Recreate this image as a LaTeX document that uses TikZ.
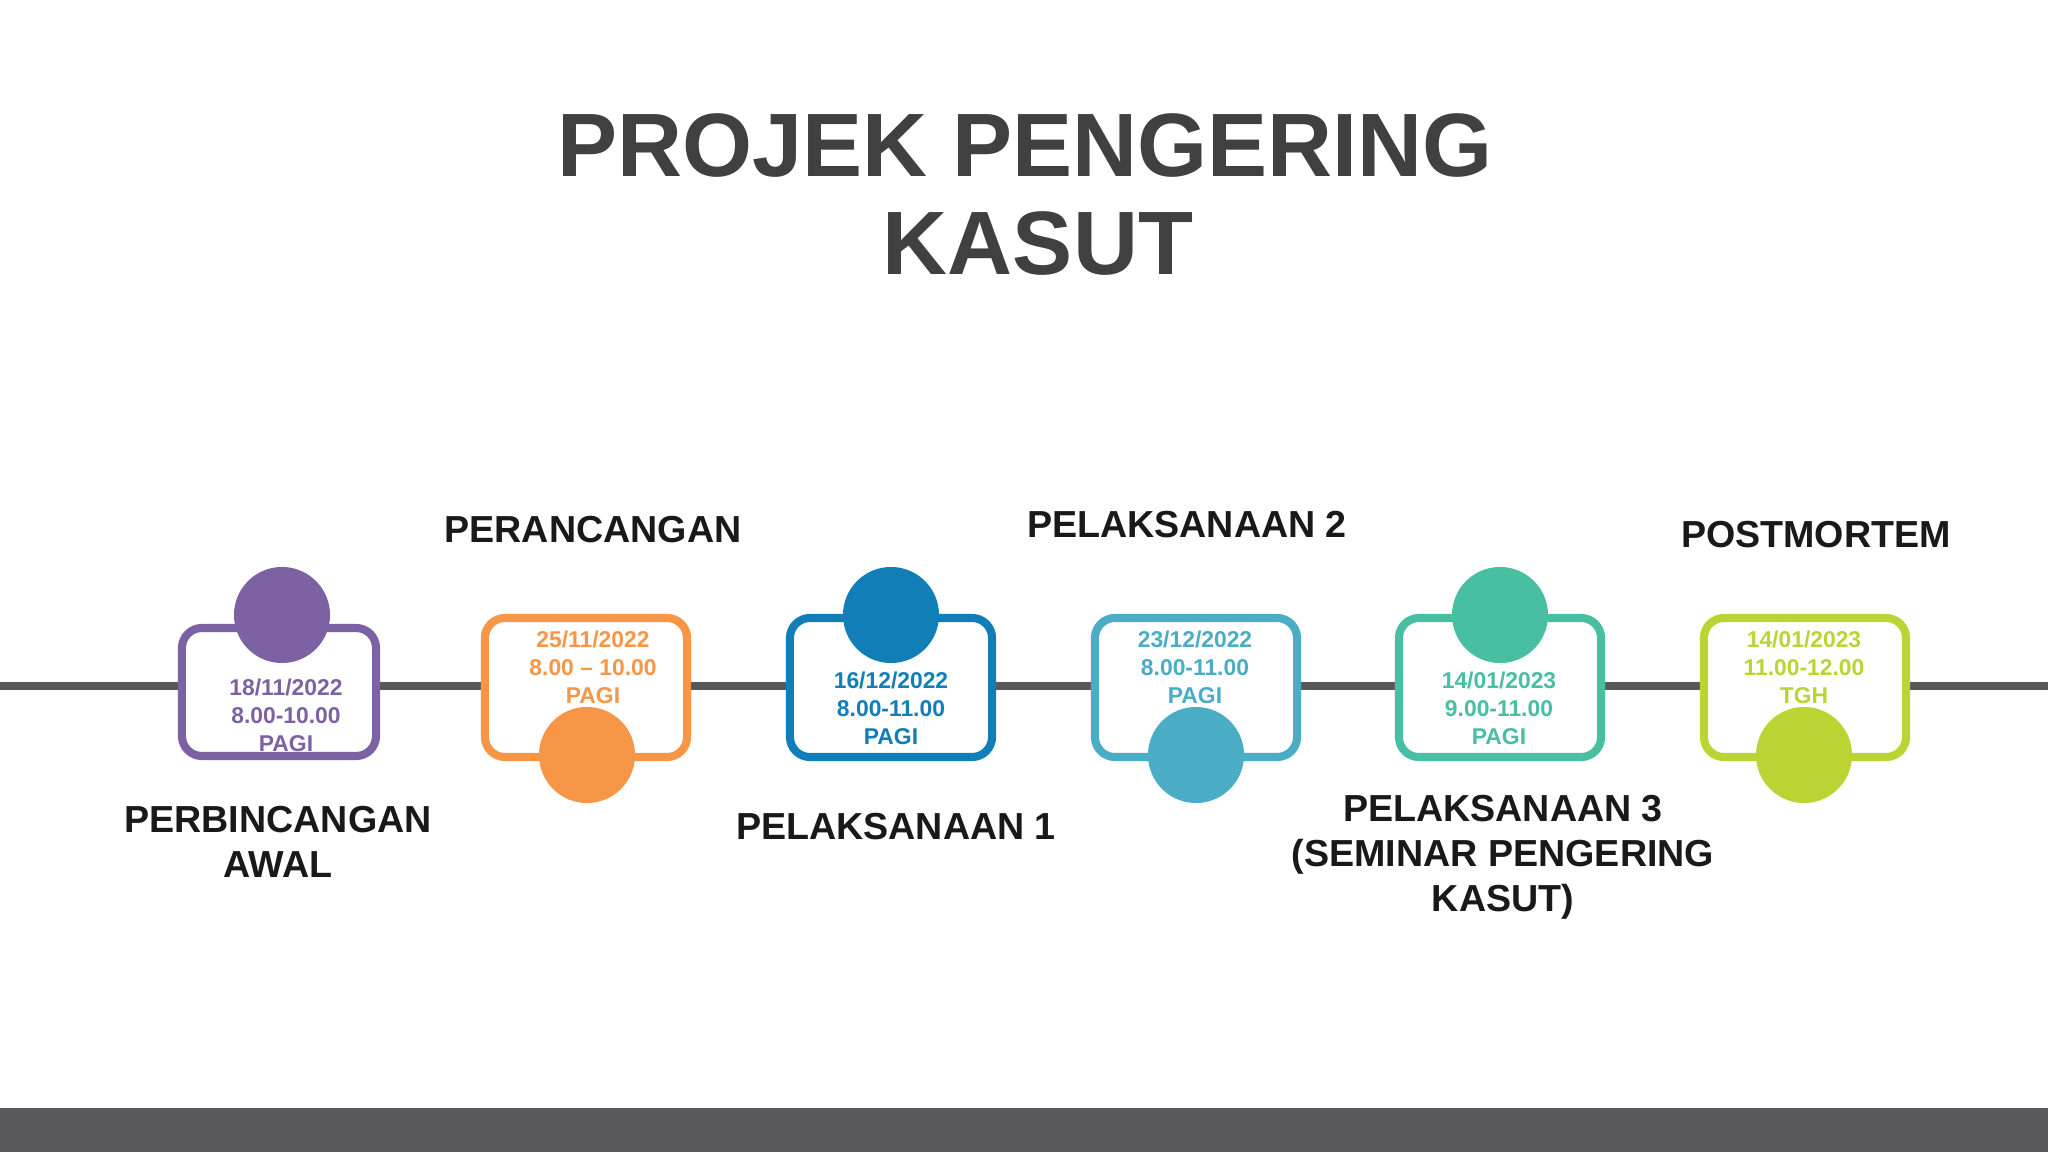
\documentclass[tikz,border=0pt]{standalone}
\usepackage{fontspec}
\setmainfont{Liberation Sans}
\usetikzlibrary{positioning}
\definecolor{tlGray}{RGB}{88,88,90}
\definecolor{tlBar}{RGB}{89,88,91}
\definecolor{tlTitle}{RGB}{64,64,64}
\definecolor{tlPurple}{RGB}{124,98,162}
\definecolor{tlOrange}{RGB}{247,150,70}
\definecolor{tlBlue}{RGB}{18,126,184}
\definecolor{tlSky}{RGB}{75,172,198}
\definecolor{tlTeal}{RGB}{72,190,162}
\definecolor{tlLime}{RGB}{187,212,52}

\begin{document}
\begin{tikzpicture}[x=0.01cm, y=-0.01cm,
  datebox/.style={draw=#1, line width=2.3pt, fill=white, rounded corners=5.7pt, inner sep=0pt},
  bead/.style={circle, fill=#1, inner sep=0pt, minimum size=0.96cm},
  datetext/.style={text=#1, align=center, font=\bfseries\fontsize{6.5pt}{7.95pt}\selectfont},
  stage/.style={align=center, text=black!90, font=\bfseries\fontsize{10.7pt}{12.8pt}\selectfont}]
  \fill[white] (0,0) rectangle (2048,1152);
  \useasboundingbox (0,0) rectangle (2048,1152);

  % Title
  \node[text=tlTitle, font=\bfseries\fontsize{25.6pt}{28pt}\selectfont] (title) at (1025,146) {PROJEK PENGERING};
  \node[text=tlTitle, font=\bfseries\fontsize{25.6pt}{28pt}\selectfont] (title2) at (1038,244) {KASUT};

  % Timeline
  \coordinate (tlL) at (0,686);
  \coordinate (tlR) at (2048,686);
  \draw[tlGray, line width=2.3pt] (tlL) -- (tlR);

  % Date boxes
  \node[datebox=tlPurple, minimum width=1.94cm, minimum height=1.28cm] (box1) at (279,692) {};
  \foreach \i/\x/\col in {2/586/tlOrange, 3/891/tlBlue, 4/1196/tlSky, 5/1500/tlTeal, 6/1805/tlLime}
    \node[datebox=\col, minimum width=2.02cm, minimum height=1.39cm] (box\i) at (\x,687.5) {};

  % Beads on the box edges
  \foreach \i/\x/\y/\col in {1/282/615/tlPurple, 2/587/755/tlOrange, 3/891/615/tlBlue,
                             4/1196/755/tlSky, 5/1500/615/tlTeal, 6/1804/755/tlLime}
    \node[bead=\col] (bead\i) at (\x,\y) {};

  % Dates
  \node[datetext=tlPurple] (date1) at (286,715) {18/11/2022\\8.00-10.00\\PAGI};
  \node[datetext=tlOrange] (date2) at (593,667) {25/11/2022\\8.00 – 10.00\\PAGI};
  \node[datetext=tlBlue] (date3) at (891,708) {16/12/2022\\8.00-11.00\\PAGI};
  \node[datetext=tlSky] (date4) at (1195,667) {23/12/2022\\8.00-11.00\\PAGI};
  \node[datetext=tlTeal] (date5) at (1499,708) {14/01/2023\\9.00-11.00\\PAGI};
  \node[datetext=tlLime] (date6) at (1804,667) {14/01/2023\\11.00-12.00\\TGH};

  % Stage labels
  \node[stage] (lbl1) at (278,842) {PERBINCANGAN\\AWAL};
  \node[stage] (lbl2) at (593,530) {PERANCANGAN};
  \node[stage] (lbl3) at (896,827) {PELAKSANAAN 1};
  \node[stage] (lbl4) at (1187,525) {PELAKSANAAN 2};
  \node[stage] (lbl5) at (1503,857) {PELAKSANAAN 3\\(SEMINAR PENGERING\\KASUT)};
  \node[stage] (lbl6) at (1816,535) {POSTMORTEM};

  % Footer bar
  \fill[tlBar] (0,1108) rectangle (2048,1152);
\end{tikzpicture}
\end{document}
